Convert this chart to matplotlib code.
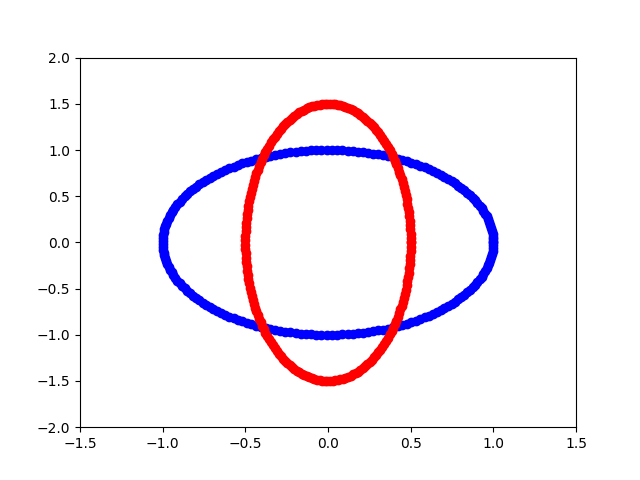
import numpy as np
import matplotlib
matplotlib.use("Agg")
import matplotlib.pyplot as plt

# ellipse parameters: (x radius, y radius, colour)
blue_radii = [1.0, 1.0]
red_radii = [0.5, 1.5]
n_points = 200

t = np.linspace(0, 2 * np.pi, n_points)

fig, ax = plt.subplots(figsize=(6.4, 4.8), dpi=100)
ax.plot(blue_radii[0] * np.cos(t), blue_radii[1] * np.sin(t), 'bo')
ax.plot(red_radii[0] * np.cos(t), red_radii[1] * np.sin(t), 'ro')
ax.set_xlim(-1.5, 1.5)
ax.set_ylim(-2.0, 2.0)
fig.savefig("out.png")
